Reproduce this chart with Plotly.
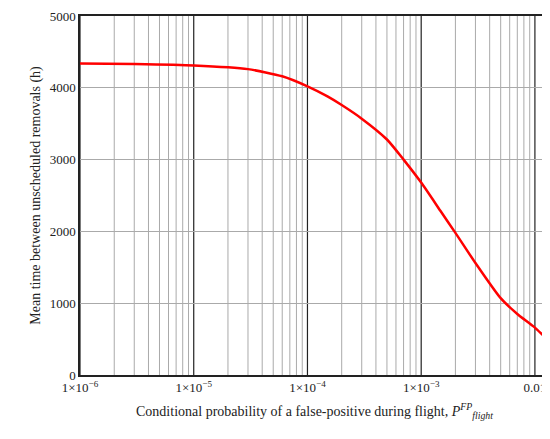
import plotly.graph_objects as go
import numpy as np

p_vals = [1e-6, 3e-6, 1e-5, 3e-5, 6e-5, 1e-4, 1.5e-4, 2e-4, 3e-4, 5e-4, 7e-4, 1e-3, 1.5e-3, 2e-3, 3e-3, 5e-3, 7e-3, 1e-2, 1.33e-2]
mtbur = [4340, 4330, 4310, 4260, 4160, 4020, 3880, 3760, 3570, 3280, 3000, 2680, 2270, 1980, 1560, 1070, 850, 660, 470]

tick_vals = [1e-6, 1e-5, 1e-4, 1e-3, 1e-2]
tick_text = ["1×10<sup>−6</sup>", "1×10<sup>−5</sup>", "1×10<sup>−4</sup>", "1×10<sup>−3</sup>", "0.01"]

fig = go.Figure(go.Scatter(x=p_vals, y=mtbur, mode="lines", line=dict(color="#ff0000", width=2.5, shape="spline", smoothing=0.6)))

shapes = []
for e in range(-6, -1):
    for m in range(1, 10):
        v = m * 10.0 ** e
        if v > 0.0133:
            break
        shapes.append(dict(type="line", xref="x", yref="paper", x0=v, x1=v, y0=0, y1=1,
                           line=dict(color="#222" if m == 1 else "#aaa", width=1.2 if m == 1 else 1), layer="below"))

font = dict(family="Liberation Serif, DejaVu Serif, serif", size=13, color="#222")
fig.update_layout(
    width=550, height=439, margin=dict(l=72, r=9, t=8, b=72),
    paper_bgcolor="white", plot_bgcolor="white", showlegend=False, font=font,
    shapes=shapes,
    xaxis=dict(type="log", range=[-6, np.log10(0.0133)], tickvals=tick_vals, ticktext=tick_text,
               showgrid=False, showline=True, mirror=True, linecolor="#222", linewidth=1.5, ticks="",
               automargin=False,
               title=dict(text="Conditional probability of a false-positive during flight, <i>P</i><sup><i>FP</i></sup><sub><i>flight</i></sub>", font=dict(size=14), standoff=12)),
    yaxis=dict(range=[0, 5000], tickvals=[0, 1000, 2000, 3000, 4000, 5000], showgrid=True, gridcolor="#aaa",
               showline=True, mirror=True, linecolor="#222", linewidth=1.5, ticks="", zeroline=False,
               automargin=False,
               title=dict(text="Mean time between unscheduled removals (h)", font=dict(size=14), standoff=6)),
)
fig.write_html("out.html")
